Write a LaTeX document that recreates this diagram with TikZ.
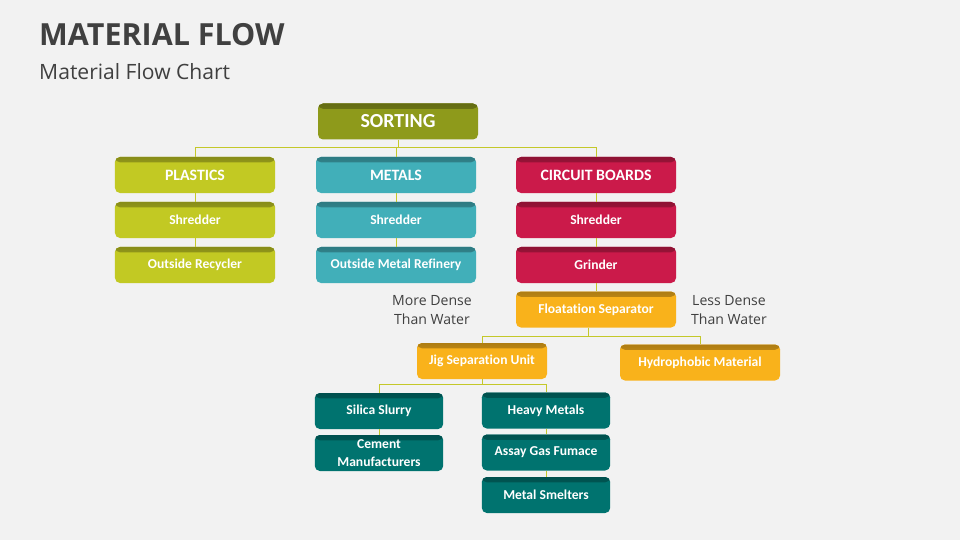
\documentclass[tikz,border=0pt]{standalone}
\usepackage{fontspec}
\setmainfont{Carlito}[Ligatures=NoCommon]
\newfontfamily\headfont{Open Sans}
\usetikzlibrary{positioning,calc}

\definecolor{bgcol}{HTML}{F2F2F2}
\definecolor{inkcol}{HTML}{404040}
\definecolor{linkcol}{HTML}{C4C82A}
\definecolor{sortcol}{HTML}{8E9A1B}
\definecolor{plastcol}{HTML}{C2C923}
\definecolor{metalcol}{HTML}{41AFB9}
\definecolor{boardcol}{HTML}{CB1A4A}
\definecolor{floatcol}{HTML}{F9B21B}
\definecolor{tealcol}{HTML}{00736F}

\tikzset{
  box/.style={rounded corners=0.15cm, fill=#1, text=white, font=\bfseries\fontsize{11.6}{13}\selectfont,
    minimum width=4.8cm, minimum height=1.08cm, inner sep=0pt, align=center,
    path picture={\shade[top color=#1!70!black, bottom color=#1]
      (path picture bounding box.north west) rectangle ([yshift=-0.16cm]path picture bounding box.north east);}},
  head/.style={box=#1, font=\bfseries\fontsize{13.5}{15}\selectfont},
  small/.style={box=#1, minimum width=3.85cm},
  link/.style={draw=linkcol, line width=0.8pt},
  note/.style={text=inkcol, font=\headfont\fontsize{12}{16}\selectfont, align=center}
}

\begin{document}
\begin{tikzpicture}[x=0.03cm,y=-0.03cm]
    \fill[bgcol] (0,0) rectangle (960,540);
    \useasboundingbox (0,0) rectangle (960,540);

    % titles
    \node[anchor=base west, inner sep=0pt, text=inkcol, font=\headfont\bfseries\fontsize{26}{30}\selectfont] (title) at (39,46) {MATERIAL FLOW};
    \node[anchor=base west, inner sep=0pt, text=inkcol, font=\headfont\fontsize{18}{22}\selectfont] (subtitle) at (39,80) {Material Flow Chart};

    % top level
    \node[box=sortcol, font=\bfseries\fontsize{17}{19}\selectfont] (sorting) at (398,121.5) {SORTING};

    % three columns
    \node[head=plastcol] (plastics) at (195,175) {PLASTICS};
    \node[box=plastcol] (pshred) at (195,220) {Shredder};
    \node[box=plastcol] (precycle) at (195,265) {Outside Recycler};

    \node[head=metalcol] (metals) at (396,175) {METALS};
    \node[box=metalcol] (mshred) at (396,220) {Shredder};
    \node[box=metalcol] (mrefine) at (396,265) {Outside Metal Refinery};

    \node[head=boardcol] (boards) at (596,175) {CIRCUIT BOARDS};
    \node[box=boardcol] (cshred) at (596,220) {Shredder};
    \node[box=boardcol] (grinder) at (596,265) {Grinder};
    \node[box=floatcol] (float) at (596,309.5) {Floatation Separator};

    \node[note] (dense) at (432,310) {More Dense\\Than Water};
    \node[note] (light) at (729,310) {Less Dense\\Than Water};

    % separation
    \node[box=floatcol, minimum width=3.9cm] (jig) at (482,361) {Jig Separation Unit};
    \node[box=floatcol] (hydro) at (700,362.5) {Hydrophobic Material};

    \node[small=tealcol] (silica) at (379,411) {Silica Slurry};
    \node[small=tealcol, font=\bfseries\fontsize{11.6}{15}\selectfont] (cement) at (379,453) {Cement\\Manufacturers};
    \node[small=tealcol] (heavy) at (546,410.5) {Heavy Metals};
    \node[small=tealcol] (assay) at (546,452.5) {Assay Gas Fumace};
    \node[small=tealcol] (smelt) at (546,495) {Metal Smelters};

    % connectors
    \coordinate (sbus) at (398,147);
    \coordinate (fbus) at (588,336);
    \coordinate (jbus) at (482,384);
    \draw[link] (sorting) -- (sbus);
    \draw[link] (sbus) -| (plastics);
    \draw[link] (sbus) -| (metals);
    \draw[link] (sbus) -| (boards);
    \draw[link] (plastics) -- (pshred);
    \draw[link] (pshred) -- (precycle);
    \draw[link] (metals) -- (mshred);
    \draw[link] (mshred) -- (mrefine);
    \draw[link] (boards) -- (cshred);
    \draw[link] (cshred) -- (grinder);
    \draw[link] (grinder) -- (float);
    \draw[link] (float.south -| fbus) -- (fbus);
    \draw[link] (fbus) -| (jig);
    \draw[link] (fbus) -| (hydro);
    \draw[link] (jig) -- (jbus);
    \draw[link] (jbus) -| (silica);
    \draw[link] (jbus) -| (heavy);
    \draw[link] (silica) -- (cement);
    \draw[link] (heavy) -- (assay);
    \draw[link] (assay) -- (smelt);
\end{tikzpicture}
\end{document}
